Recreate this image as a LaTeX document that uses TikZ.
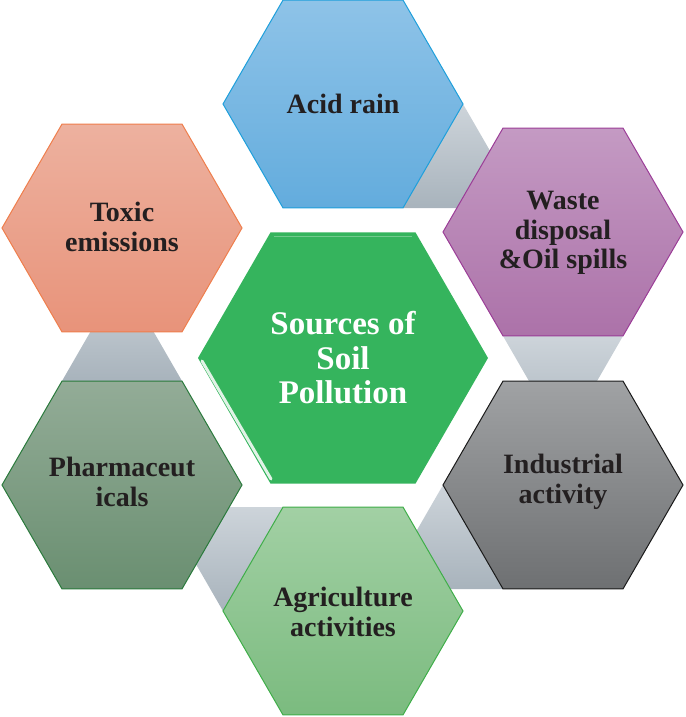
\documentclass[tikz,border=0pt]{standalone}
\usepackage{fontspec}
\setmainfont{Liberation Serif}
\definecolor{txt}{HTML}{231F20}
\definecolor{acidT}{HTML}{8EC3E8}\definecolor{acidB}{HTML}{63ACDD}\definecolor{acidD}{HTML}{1E9FDB}
\definecolor{wasteT}{HTML}{C49AC3}\definecolor{wasteB}{HTML}{AC72A9}\definecolor{wasteD}{HTML}{9B3D97}
\definecolor{indT}{HTML}{A0A2A4}\definecolor{indB}{HTML}{6E7072}\definecolor{indD}{HTML}{1A1A1A}
\definecolor{agriT}{HTML}{A2D0A4}\definecolor{agriB}{HTML}{7BBB7F}\definecolor{agriD}{HTML}{3FAE49}
\definecolor{phT}{HTML}{93AC97}\definecolor{phB}{HTML}{6A8F71}\definecolor{phD}{HTML}{2A7A3C}
\definecolor{toxT}{HTML}{EDB19F}\definecolor{toxB}{HTML}{E8937A}\definecolor{toxD}{HTML}{EF7E4C}
\definecolor{ctrG}{HTML}{35B45D}
\definecolor{cnT}{HTML}{CDD4DA}\definecolor{cnB}{HTML}{A8B3BC}
% #1,#2 centre, #3 radius, #4 top colour, #5 bottom colour, #6 border colour
\newcommand{\hexfill}[6]{%
  \shade[top color=#4,bottom color=#5,draw=#6,line width=1pt,line join=miter]
    ({#1+#3},{#2}) -- ({#1+#3/2},{#2+0.866*#3}) -- ({#1-#3/2},{#2+0.866*#3})
    -- ({#1-#3},{#2}) -- ({#1-#3/2},{#2-0.866*#3}) -- ({#1+#3/2},{#2-0.866*#3}) -- cycle;}
\begin{document}
\begin{tikzpicture}[x=1pt,y=-1pt,
  lbl/.style={align=center,font=\fontsize{28}{29.5}\selectfont\bfseries,text=txt,inner sep=0pt},
  conn/.style={top color=cnT,bottom color=cnB,draw=none}]
\useasboundingbox (0,0) rectangle (685,717);
% connector triangles (behind the hexagons)
\shade[conn] (463,104) -- (523,208) -- (403,208) -- cycle;
\shade[conn] (503,336) -- (623,336) -- (563,440) -- cycle;
\shade[conn] (443,485) -- (503,589) -- (383,589) -- cycle;
\shade[conn] (223,611) -- (283,507) -- (163,507) -- cycle;
\shade[conn] (62,381) -- (182,381) -- (122,277) -- cycle;
% hexagons
\hexfill{343}{104}{120}{acidT}{acidB}{acidD}
\hexfill{563}{232}{120}{wasteT}{wasteB}{wasteD}
\hexfill{563}{485}{120}{indT}{indB}{indD}
\hexfill{343}{611}{120}{agriT}{agriB}{agriD}
\hexfill{122}{485}{120}{phT}{phB}{phD}
\hexfill{122}{228}{120}{toxT}{toxB}{toxD}
\fill[ctrG] (488,358) -- (415.5,483.6) -- (270.5,483.6) -- (198,358) -- (270.5,232.4) -- (415.5,232.4) -- cycle;
\draw[white,line width=3pt,opacity=0.85,line cap=round] (202,361) -- (271,479);
\draw[white,line width=1pt,opacity=0.3] (274,236) -- (412,236);
% labels
\node[lbl] (acid) at (343,104) {Acid rain};
\node[lbl] (waste) at (563,233) {Waste\\disposal\\\&Oil spills};
\node[lbl] (ind) at (563,482) {Industrial\\activity};
\node[lbl] (agri) at (343,612) {Agriculture\\activities};
\node[lbl] (pharma) at (122,482) {Pharmaceut\\icals};
\node[lbl] (toxic) at (122,227) {Toxic\\emissions};
\node[lbl,text=white,font=\fontsize{33}{34.5}\selectfont\bfseries] (src) at (343,358) {Sources of\\Soil\\Pollution};
\end{tikzpicture}
\end{document}
